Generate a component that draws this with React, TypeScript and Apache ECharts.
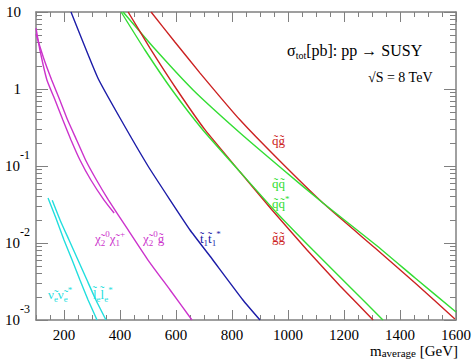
import React, { useEffect, useRef } from "react";
import * as echarts from "echarts";

// axis ticks
const xMajorTicks = [200, 400, 600, 800, 1000, 1200, 1400, 1600];
const yDecades = [-3, -2, -1, 0];
const yMinorMultipliers = [2, 3, 4, 5, 6, 7, 8, 9];

// cross sections [pb] vs average mass [GeV]
const snuMass = [143, 171, 200, 229, 257, 286, 318];
const snuXsec = [0.0384, 0.0211, 0.01094, 0.00601, 0.0033, 0.00182, 0.001];
const slepMass = [158, 187, 218, 250, 282, 314, 350];
const slepXsec = [0.036, 0.0195, 0.01094, 0.00601, 0.0033, 0.00182, 0.001];
const n2c1Mass = [100, 114, 139, 168, 196, 225, 257, 296, 343, 379];
const n2c1Xsec = [6.19, 3.21, 1.31, 0.72, 0.395, 0.218, 0.1197, 0.0658, 0.0361, 0.0245];
const n2gMass = [100, 127, 156, 185, 213, 245, 277, 316, 359, 429, 500, 579, 657];
const n2gXsec = [5.18, 2.53, 1.31, 0.72, 0.395, 0.218, 0.1197, 0.0658, 0.0361, 0.01476, 0.00601, 0.00245, 0.001];
const stopMass = [225, 321, 400, 500, 579, 650, 721, 839, 900];
const stopXsec = [10, 1.39, 0.42, 0.1, 0.0361, 0.01476, 0.00678, 0.00182, 0.001];
const sqglMass = [511, 596, 686, 829, 971, 1125, 1311, 1454, 1596];
const sqglXsec = [10, 4.08, 1.61, 0.395, 0.116, 0.033, 0.0086, 0.00303, 0.00103];
const sqsqMass = [411, 525, 661, 829, 971, 1125, 1314, 1454, 1600];
const sqsqXsec = [10, 3.3, 0.971, 0.268, 0.097, 0.033, 0.00942, 0.00351, 0.00127];
const glglMass = [429, 507, 604, 704, 829, 943, 1068, 1186, 1304];
const glglXsec = [10, 3.4, 0.971, 0.294, 0.0836, 0.0268, 0.0081, 0.00277, 0.001];
const sqasqMass = [404, 489, 586, 696, 829, 957, 1089, 1214, 1339];
const sqasqXsec = [10, 3.21, 0.971, 0.294, 0.0836, 0.0253, 0.0081, 0.00285, 0.001];

const CYAN = "#22dede";
const MAGENTA = "#cc33cc";
const BLUE = "#1c1ca8";
const RED = "#cc2222";
const GREEN = "#33dd33";
const AXIS = "#808080";
const FONT = "'Liberation Serif', 'DejaVu Serif', serif";

const pairs = (m: number[], s: number[]) => m.map((v, i) => [v, s[i]]);

const curve = (name: string, m: number[], s: number[], color: string) => ({
  name,
  type: "line",
  xAxisIndex: 0,
  yAxisIndex: 0,
  data: pairs(m, s),
  smooth: 0.15,
  showSymbol: false,
  symbol: "none",
  clip: true,
  lineStyle: { color, width: 1.4 },
  silent: true,
});

const T = "\u0303";
const labelRich = {
  a: { fontSize: 13, lineHeight: 18, fontFamily: FONT },
  sub: { fontSize: 9, lineHeight: 9, verticalAlign: "bottom", fontFamily: FONT },
  sup: { fontSize: 9, lineHeight: 9, verticalAlign: "top", fontFamily: FONT },
};

const label = (text: string, x: number, y: number, color: string) => ({
  type: "text",
  x,
  y,
  silent: true,
  style: {
    text,
    rich: labelRich,
    fill: color,
    fontFamily: FONT,
    fontSize: 13,
    align: "left",
    verticalAlign: "middle",
  },
});

export default function App() {
  const ref = useRef<HTMLDivElement>(null);
  useEffect(() => {
    if (!ref.current) return;
    const chart = echarts.init(ref.current, undefined, { renderer: "svg" });
    const yMinorTicks: number[] = [];
    yDecades.forEach((d) =>
      yMinorMultipliers.forEach((k) => yMinorTicks.push(Math.log10(k * Math.pow(10, d))))
    );
    const xBase = {
      type: "value",
      min: 100,
      max: 1600,
      splitLine: { show: false },
    };
    const yLogBase = {
      type: "log",
      logBase: 10,
      min: 0.001,
      max: 10,
      splitLine: { show: false },
    };
    const yMinorBase = {
      type: "value",
      min: -3,
      max: 1,
      splitLine: { show: false },
      axisLine: { show: false, onZero: false },
      axisLabel: { show: false },
      axisTick: {
        show: true,
        inside: true,
        length: 6,
        customValues: yMinorTicks,
        lineStyle: { color: AXIS, width: 1 },
      },
    };
    const option: any = {
      animation: false,
      backgroundColor: "#ffffff",
      grid: { left: 36, top: 12, right: 18, bottom: 44, containLabel: false },
      xAxis: [
        {
          ...xBase,
          position: "bottom",
          axisLine: { show: true, onZero: false, lineStyle: { color: AXIS, width: 1.5 } },
          axisTick: {
            show: true,
            inside: true,
            length: 10,
            customValues: xMajorTicks,
            lineStyle: { color: AXIS, width: 1 },
          },
          axisLabel: {
            show: true,
            customValues: xMajorTicks,
            formatter: (v: number) => String(v),
            margin: 7,
            color: "#000",
            fontSize: 15,
            lineHeight: 15,
            fontFamily: FONT,
          },
        },
        {
          ...xBase,
          position: "bottom",
          interval: 50,
          axisLine: { show: false, onZero: false },
          axisTick: { show: true, inside: true, length: 5, lineStyle: { color: AXIS, width: 1 } },
          axisLabel: { show: false },
        },
        {
          ...xBase,
          position: "top",
          axisLine: { show: true, onZero: false, lineStyle: { color: AXIS, width: 1.5 } },
          axisTick: {
            show: true,
            inside: true,
            length: 10,
            customValues: xMajorTicks,
            lineStyle: { color: AXIS, width: 1 },
          },
          axisLabel: { show: false },
        },
        {
          ...xBase,
          position: "top",
          interval: 50,
          axisLine: { show: false, onZero: false },
          axisTick: { show: true, inside: true, length: 5, lineStyle: { color: AXIS, width: 1 } },
          axisLabel: { show: false },
        },
      ],
      yAxis: [
        {
          ...yLogBase,
          position: "left",
          axisLine: { show: true, onZero: false, lineStyle: { color: AXIS, width: 1.5 } },
          axisTick: { show: true, inside: true, length: 12, lineStyle: { color: AXIS, width: 1 } },
          axisLabel: {
            show: true,
            margin: 6,
            color: "#000",
            fontFamily: FONT,
            formatter: (v: number) => {
              const e = Math.round(Math.log10(v));
              if (e === 1) return "{b|10}{sp| }";
              if (e === 0) return "{b|1}{sp| }";
              return `{b|10}{s|${e}}`;
            },
            rich: {
              b: { fontSize: 15, lineHeight: 34, fontFamily: FONT, color: "#000" },
              s: { fontSize: 12, lineHeight: 14, verticalAlign: "top", fontFamily: FONT, color: "#000" },
              sp: { width: 9, fontSize: 12 },
            },
          },
        },
        { ...yMinorBase, position: "left" },
        {
          ...yLogBase,
          position: "right",
          axisLine: { show: true, onZero: false, lineStyle: { color: AXIS, width: 1.5 } },
          axisTick: { show: true, inside: true, length: 12, lineStyle: { color: AXIS, width: 1 } },
          axisLabel: { show: false },
        },
        { ...yMinorBase, position: "right" },
      ],
      series: [
        curve("snu", snuMass, snuXsec, CYAN),
        curve("slep", slepMass, slepXsec, CYAN),
        curve("n2c1", n2c1Mass, n2c1Xsec, MAGENTA),
        curve("n2g", n2gMass, n2gXsec, MAGENTA),
        curve("stop", stopMass, stopXsec, BLUE),
        curve("sqgl", sqglMass, sqglXsec, RED),
        curve("sqsq", sqsqMass, sqsqXsec, GREEN),
        curve("glgl", glglMass, glglXsec, RED),
        curve("sqasq", sqasqMass, sqasqXsec, GREEN),
      ],
      graphic: [
        {
          type: "text",
          x: 287,
          y: 50,
          silent: true,
          style: {
            text: "{a|σ}{sub|tot}{a|[pb]: pp → SUSY}",
            rich: {
              a: { fontSize: 16, lineHeight: 20, fontFamily: FONT },
              sub: { fontSize: 10, lineHeight: 10, verticalAlign: "bottom", fontFamily: FONT },
            },
            fill: "#000",
            fontFamily: FONT,
            fontSize: 16,
            align: "left",
            verticalAlign: "middle",
          },
        },
        {
          type: "text",
          x: 368,
          y: 77,
          silent: true,
          style: {
            text: "√S = 8 TeV",
            fill: "#000",
            fontFamily: FONT,
            fontSize: 14,
            align: "left",
            verticalAlign: "middle",
          },
        },
        label(`{a|q${T}g${T}}`, 272, 140, RED),
        label(`{a|q${T}q${T}}`, 272, 183, GREEN),
        label(`{a|q${T}q${T}}{sup|*}`, 272, 203, GREEN),
        label(`{a|g${T}g${T}}`, 272, 237, RED),
        label(`{a|χ${T}}{sub|2}{sup|0}{a|χ${T}}{sub|1}{sup|+}`, 95, 238, MAGENTA),
        label(`{a|χ${T}}{sub|2}{sup|0}{a|g${T}}`, 143, 238, MAGENTA),
        label(`{a|t${T}}{sub|1}{a|t${T}}{sub|1}{sup|*}`, 200, 238, BLUE),
        label(`{a|ν${T}}{sub|e}{a|ν${T}}{sub|e}{sup|*}`, 48, 294, CYAN),
        label(`{a|l${T}}{sub|e}{a|l${T}}{sub|e}{sup|*}`, 93, 294, CYAN),
        {
          type: "text",
          x: 458,
          y: 351,
          silent: true,
          style: {
            text: "{a|m}{sub|average}{a| [GeV]}",
            rich: {
              a: { fontSize: 15, lineHeight: 15, fontFamily: FONT },
              sub: { fontSize: 11, lineHeight: 11, verticalAlign: "bottom", fontFamily: FONT },
            },
            fill: "#000",
            fontFamily: FONT,
            fontSize: 15,
            align: "right",
            verticalAlign: "middle",
          },
        },
      ],
    };
    chart.setOption(option);
    return () => chart.dispose();
  }, []);
  return (
    <div
      ref={ref}
      style={{ width: 474, height: 364, position: "absolute", left: 0, top: 0, background: "#fff" }}
    />
  );
}
